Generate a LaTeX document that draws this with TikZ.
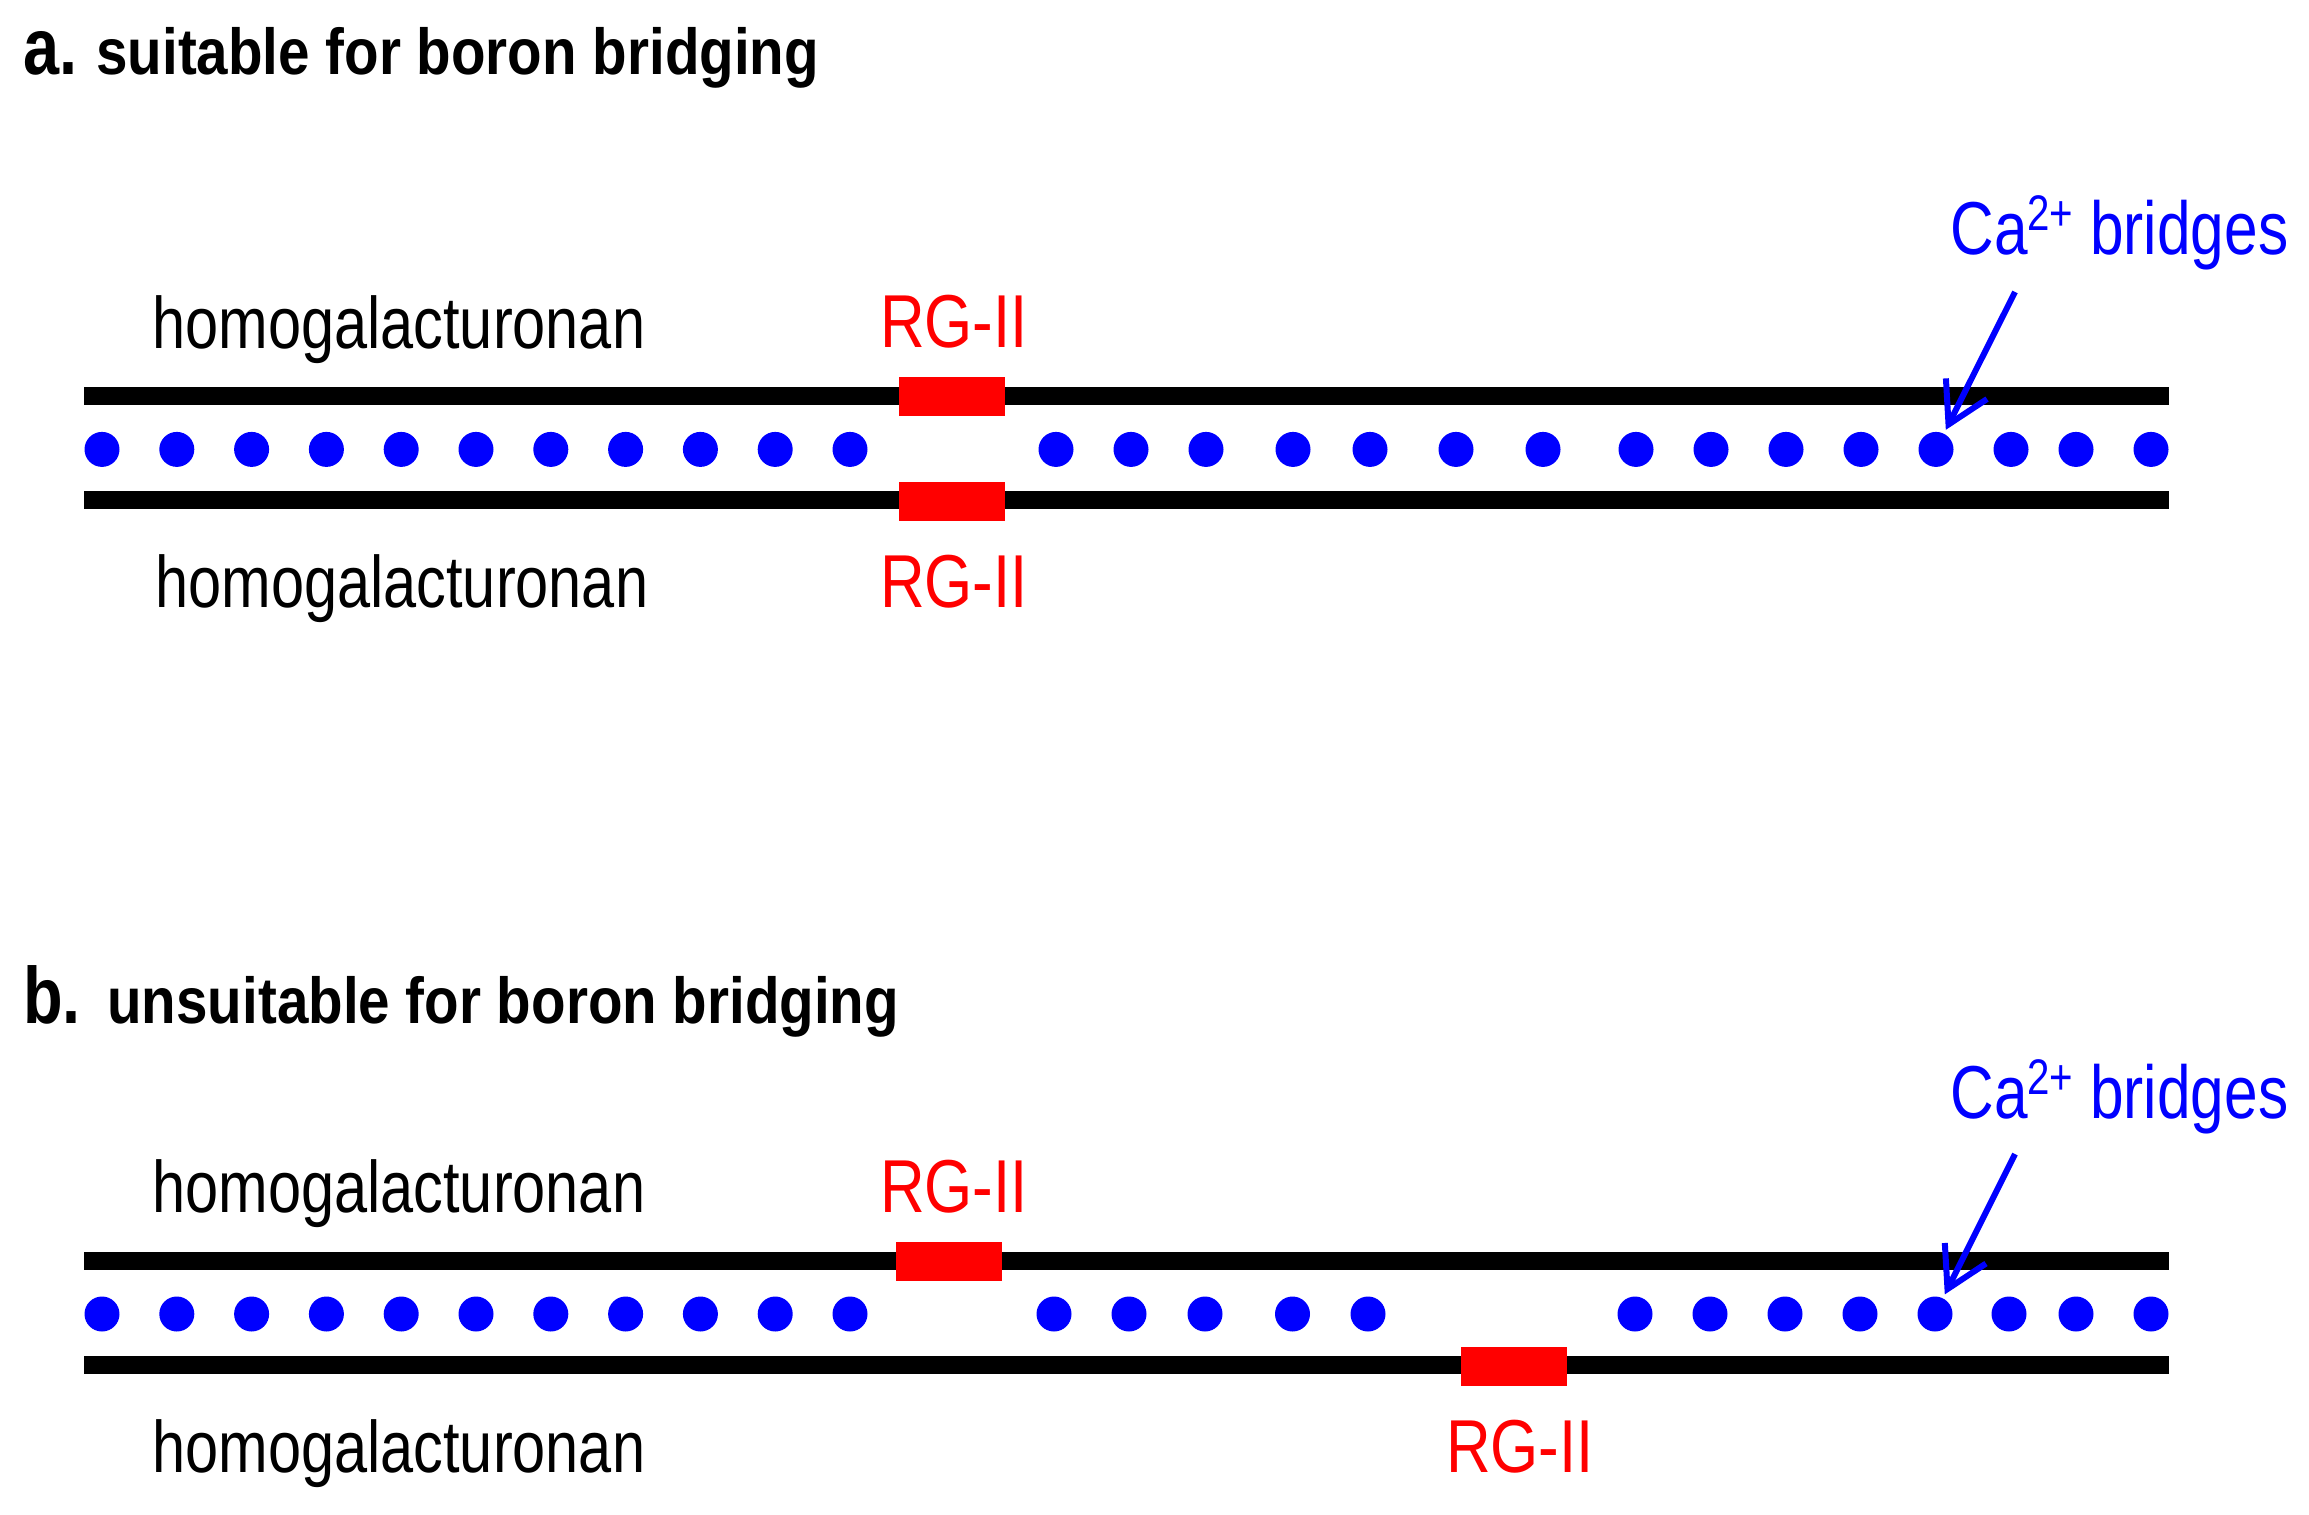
\documentclass[tikz,border=0pt]{standalone}
\usepackage{fontspec}
\setmainfont{Liberation Sans}
\newfontfamily\labfont[FakeStretch=0.815]{Liberation Sans}
\newfontfamily\rgfont[FakeStretch=0.825]{Liberation Sans}
\newfontfamily\cafont[FakeStretch=0.805]{Liberation Sans}
\newfontfamily\headfont[FakeStretch=0.87]{Liberation Sans}
\newfontfamily\letterfont[FakeStretch=0.81]{Liberation Sans}
\usetikzlibrary{arrows.meta}
\definecolor{pureblue}{RGB}{0,0,255}
\definecolor{purered}{RGB}{255,0,0}
\tikzset{
  x=0.5pt,y=-0.5pt,
  chain/.style={line width=9pt,black},
  rgbox/.style={fill=purered,draw=none,inner sep=0pt,minimum width=53pt,minimum height=19.5pt},
  cadot/.style={circle,fill=pureblue,draw=none,inner sep=0pt,minimum size=17.5pt},
  lab/.style={anchor=base west,inner sep=0pt,font=\labfont\fontsize{36.5}{40}\selectfont},
  rglab/.style={anchor=base,inner sep=0pt,text=purered,font=\rgfont\fontsize{37.5}{40}\selectfont},
  calab/.style={anchor=base west,inner sep=0pt,text=pureblue,font=\cafont\fontsize{37.5}{40}\selectfont},
  head/.style={anchor=base west,inner sep=0pt,font=\headfont\bfseries\fontsize{32.5}{36}\selectfont},
  letter/.style={anchor=base west,inner sep=0pt,font=\letterfont\bfseries\fontsize{40}{44}\selectfont},
  ptr/.style={pureblue,line width=3pt,-{Straight Barb[length=20pt,width=23pt,line width=3pt]},shorten >=2pt},
}
\begin{document}
\begin{tikzpicture}
\useasboundingbox (0,0) rectangle (2309,1515);
% panel a
\node[letter] (la) at (23,74) {a.};
\node[head] (ha) at (96,74) {suitable for boron bridging};
\node[lab] (hg1) at (152,348) {homogalacturonan};
\node[lab] (hg2) at (155,607) {homogalacturonan};
\node[rglab] (rgt1) at (954,347) {RG-II};
\node[rglab] (rgt2) at (954,607) {RG-II};
\node[calab] (cat1) at (1950,254) {Ca{\fontsize{25}{25}\selectfont\raisebox{12pt}{2+}} bridges};
\coordinate (a1l) at (84,395.7); \coordinate (a1r) at (2169,395.7);
\coordinate (a2l) at (84,500); \coordinate (a2r) at (2169,500);
\draw[chain] (a1l) -- (a1r);
\draw[chain] (a2l) -- (a2r);
\node[rgbox] (rga1) at (952,396.5) {};
\node[rgbox] (rga2) at (952,501) {};
\foreach \xx [count=\i] in {102,176.8,251.6,326.4,401.2,476,550.8,625.6,700.4,775.2,850,1056,1131,1206,1293,1370,1456,1543,1636,1711,1786,1861,1936,2011,2076,2151}
  \node[cadot] (da\i) at (\xx,449.4) {};
\coordinate (taila) at (2015,292);
\draw[ptr] (taila) -- (da23);
% panel b
\node[letter] (lb) at (23,1023) {b.};
\node[head] (hb) at (107,1023) {unsuitable for boron bridging};
\node[lab] (hg3) at (152,1212) {homogalacturonan};
\node[lab] (hg4) at (152,1472) {homogalacturonan};
\node[rglab] (rgt3) at (954,1212) {RG-II};
\node[rglab] (rgt4) at (1520,1472) {RG-II};
\node[calab] (cat2) at (1950,1118) {Ca{\fontsize{25}{25}\selectfont\raisebox{12pt}{2+}} bridges};
\coordinate (b1l) at (84,1260.5); \coordinate (b1r) at (2169,1260.5);
\coordinate (b2l) at (84,1365); \coordinate (b2r) at (2169,1365);
\draw[chain] (b1l) -- (b1r);
\draw[chain] (b2l) -- (b2r);
\node[rgbox] (rgb1) at (949,1261.5) {};
\node[rgbox] (rgb2) at (1514,1366.5) {};
\foreach \xx [count=\i] in {102,176.8,251.6,326.4,401.2,476,550.8,625.6,700.4,775.2,850,1054,1129,1205,1292.5,1368,1635,1710,1785,1860,1935,2009,2076,2151}
  \node[cadot] (db\i) at (\xx,1314) {};
\coordinate (tailb) at (2015,1154);
\draw[ptr] (tailb) -- (db21);
\end{tikzpicture}
\end{document}
